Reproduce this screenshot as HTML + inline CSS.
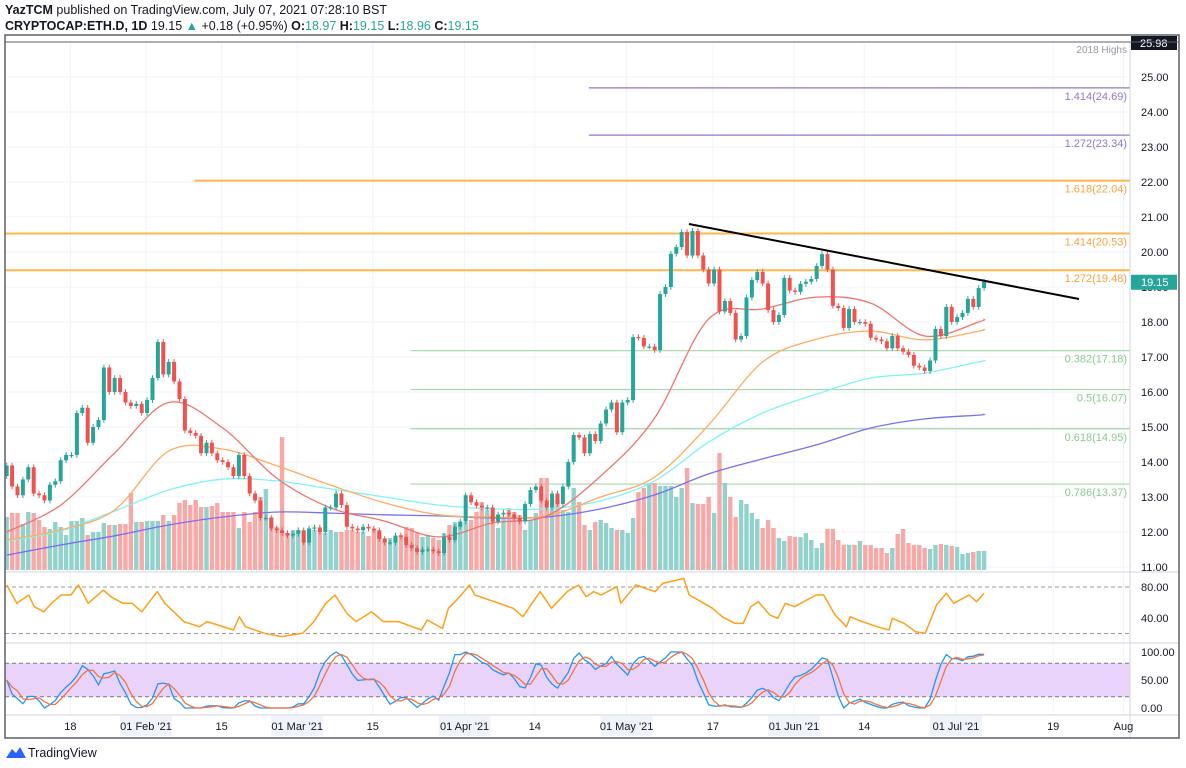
<!DOCTYPE html>
<html><head><meta charset="utf-8">
<style>
html,body{margin:0;padding:0;background:#fff;}
svg{display:block;font-family:"Liberation Sans",Arial,sans-serif;}
</style></head>
<body>
<svg id="chart" width="1186" height="768" viewBox="0 0 1186 768" xmlns="http://www.w3.org/2000/svg">
  <rect x="0" y="0" width="1186" height="768" fill="#ffffff"/>
  <text x="5" y="14" font-size="12.5" fill="#131722"><tspan font-weight="bold">YazTCM</tspan> published on TradingView.com, July 07, 2021 07:28:10 BST</text>
  <text x="5" y="30" font-size="12.5" fill="#131722"><tspan font-weight="bold">CRYPTOCAP:ETH.D, 1D</tspan>  19.15 <tspan fill="#26a69a">▲</tspan> +0.18 (+0.95%) <tspan font-weight="bold">O:</tspan><tspan fill="#26a69a">18.97</tspan> <tspan font-weight="bold">H:</tspan><tspan fill="#26a69a">19.15</tspan> <tspan font-weight="bold">L:</tspan><tspan fill="#26a69a">18.96</tspan> <tspan font-weight="bold">C:</tspan><tspan fill="#26a69a">19.15</tspan></text>
  <g id="grid"></g>
  <g id="fibs"></g>
  <g id="vol"></g>
  <g id="mas"></g>
  <g id="candles"></g>
  <line x1="689" y1="224" x2="1079" y2="299" stroke="#000" stroke-width="2"/>
  <g id="rsi"></g>
  <g id="stoch"></g>
  <g id="axes"></g>
  <rect x="5" y="35" width="1174" height="703" fill="none" stroke="#5d606b" stroke-width="1.5"/>
  <line x1="5" y1="42" x2="1179" y2="42" stroke="#5d606b" stroke-width="1"/>
  <g>
    <path d="M6 758 L12 749 L16 753 L20 747 L26 758 Z" fill="#2962ff"/>
    <text x="28" y="757" font-size="12.5" fill="#131722">TradingView</text>
  </g>
</svg>
<script>
// ---- data ----
const firstOpen = 13.6;
const closesJan = [13.9,13.3,13.05,13.5,13.85,13.1,13.05,12.9,13.35,13.45,
14.05,14.2,14.2,15.4,15.55,14.55,15.0,15.2,16.7,16.0,
16.4,16.0,15.7,15.6,15.66,15.4,15.77,16.4,17.43,16.5,
16.86,16.3,15.8,14.9,14.83,14.75,14.25,14.55,14.25,14.05,
14.0,13.85,13.6,14.2,13.6,13.1,12.9,12.4,12.4,12.1,
12.05,11.97,11.9,11.95,12.05,11.7,12.1,12.13,12.0,12.7,
12.7,13.1,12.77,12.15,12.1,12.05,12.15,12.1,12.05,11.8,
11.7,11.7,11.9];
const closesMar = [11.86,11.63,11.54,11.43,11.5,11.5,11.45,11.4,11.86,11.77,12.15,12.3,13.05];
const closesAprMay = [12.85,12.75,12.7,12.7,12.3,12.5,12.55,12.5,12.4,12.3,
12.8,13.2,13.3,12.9,12.7,13.1,12.8,13.3,14.0,14.77,
14.7,14.25,14.8,14.6,15.1,15.5,15.7,14.85,15.7,15.77,
17.57,17.55,17.3,17.3,17.2,18.8,19.0,19.95,20.14,20.57,
19.9,20.6,19.9,19.5,19.1,19.5,18.3,18.6,18.26,17.5,
17.6,18.7,19.2,19.43,19.1,18.34,18.0,18.2];
const closesJun = [19.26,18.9,18.86,19.09,19.15,19.23,19.6,19.94,19.5,18.46,
18.4,17.83,18.37,18.0,18.0,17.95,17.55,17.5,17.45,17.25,
17.6,17.25,17.15,17.06,16.75,16.7,16.6,16.9,17.8,17.6,
18.43,18.0,18.14,18.26,18.66,18.43,18.97,19.15];
const volJan = [53,57,57,46,58,57,50,43,41,48,43,35,49,49,52,35,38,38,47,45,
45,46,46,77,48,48,49,49,49,55,49,55,67,70,65,70,63,63,64,67,
58,58,58,42,58,48,58,73,81,53,43,133,37,40,40,38,40,40,40,37,
40,38,38,40,40,38,38,34,40,38,32,32,33];
const volMar = [35,43,42,37,33,35,32,30,37,45,48,48,48];
const volAprMay = [50,58,68,60,52,42,52,62,58,55,40,50,57,92,92,70,70,60,58,82,
68,45,40,48,50,47,42,40,40,37,
52,78,82,87,87,84,84,84,73,82,102,67,66,66,73,57,117,87,73,53,70,66,57,51,42,50,42,32];
const volJun = [29,34,33,33,37,30,22,27,41,41,30,25,25,25,29,25,25,22,22,17,22,36,41,27,25,25,22,21,25,26,25,24,23,16,17,18,19,19];
// moving averages sampled every 10 candles (last = final candle)
const maSampleIdx = [0,10,20,30,40,50,60,70,80,90,100,110,120,130,140,150,160,170,180,181];
const ma20 = [12.0,12.77,14.26,15.7,14.97,13.54,12.69,12.31,11.86,12.26,12.46,13.6,15.26,18.09,18.37,18.71,18.54,17.6,18.0,18.09];
const ma50 = [11.77,12.06,12.63,14.31,14.37,13.89,13.34,12.83,12.49,12.43,12.46,13.0,13.57,15.06,16.86,17.51,17.74,17.49,17.74,17.8];
const ma100 = [11.74,12.03,12.6,13.2,13.51,13.46,13.23,13.0,12.77,12.66,12.66,12.89,13.46,14.57,15.4,15.94,16.4,16.54,16.86,16.89];
const ma200 = [11.34,11.63,11.89,12.2,12.43,12.57,12.54,12.49,12.46,12.4,12.43,12.66,13.06,13.66,14.09,14.49,14.97,15.23,15.34,15.37];
// RSI at candle positions
const rsiIdx = [0,1.9,4.1,5.1,6.9,8.3,10.1,11.9,13.3,15.1,17.9,19.3,21.5,23.2,25,27.9,29.3,32.8,35.7,37.1,42,43.1,44.2,47.7,50.9,52.7,54.8,56.9,59.1,60.8,63,64.7,67.6,69.7,72.5,76.8,77.9,80.7,81.8,83.6,85.7,86.7,90.3,93.8,95.6,98.8,100.9,103.8,105.9,107.3,
108.7,110.1,113,113.7,116.5,120.1,121.5,125.4,126.4,128.6,130.7,132.5,134.9,136.4,137.8,139.2,141.3,142.8,144.2,145.9,149.9,151.3,153.4,155.5,156.2,158.4,161.2,163.4,164,166.2,168.3,170.1,172.2,174,175.4,178.2,179.6,181];
const rsiValsRead = [82.6,59,69.7,54.6,48,59,69.7,69.7,82.6,59,76,67.5,59,59,48,74,59,35.3,28.8,35.3,24.5,41.7,28.8,20.2,16,18,20.2,35.3,59,69.7,46,35.3,48,35.3,35.3,24.5,37.5,26.5,52.5,65,82.6,69.7,61,52.5,41.7,74,52.5,74,82.6,67.5,
74,69.7,80.4,59,82.6,74,84.7,91,69.7,61,52.5,41.7,33,33,54.6,61,44,39.6,59,54.6,69.7,69.7,44,28.8,41.7,35.3,28.8,24.5,39.6,33,22.3,20.2,56.9,71.9,59,69.7,61,71.9];
const priceTicks = [25,24,23,22,21,20,19,18,17,16,15,14,13,12,11];
const fibLevels = [1.414,1.272,1.618,1.414,1.272,0.382,0.5,0.618,0.786];
const fibPrices = [24.69,23.34,22.04,20.53,19.48,17.18,16.07,14.95,13.37];
const fibKinds = ['p','p','o','o','o','g','g','g','g'];
const fibStartDay = [113,113,40,5,5,80,80,80,80];
const tickDays = [17,31,45,59,73,90,103,120,136,151,164,181,199,212];
const tickLabels = ['18','01 Feb \'21','15','01 Mar \'21','15','01 Apr \'21','14','01 May \'21','17','01 Jun \'21','14','01 Jul \'21','19','Aug'];
const rsiSeedGain = 0.2, rsiSeedLoss = 0.05;

const closes = closesJan.concat(closesMar, closesAprMay, closesJun);
const vols = volJan.concat(volMar, volAprMay, volJun);

// ---- scales ----
const NS = 'http://www.w3.org/2000/svg';
const PLOT_R = 1130;
function xDay(d){ return 146 + 5.4*(d-31); }
function xI(i){ return xDay(i + 5.2); }
function yP(p){ return 77 + (25-p)*35; }
function yV(v){ return 570 - v; }
function yR(r){ return 587 + (80-r)*0.775; }
function yS(s){ return 708 - s*0.56; }
function mk(tag, attrs, parent){ const e=document.createElementNS(NS,tag); for(const k in attrs) e.setAttribute(k,attrs[k]); parent.appendChild(e); return e; }

const grid = document.getElementById('grid');
priceTicks.forEach(p=>{ const l=mk('line',{x1:5,x2:PLOT_R,y1:yP(p),y2:yP(p),stroke:'#f0f3fa'},grid);

 });
tickDays.forEach(d=>{ const l=mk('line',{x1:xDay(d),x2:xDay(d),y1:42,y2:715,stroke:'#f0f3fa'},grid);

 });

// fibs
const fibG = document.getElementById('fibs');
const fibCol = {p:'#9575cd',o:'#ffb74d',g:'#a5d6a7'};
const fibTxt = {p:'#9575cd',o:'#f7a145',g:'#8cc98e'};
fibPrices.forEach((p,k)=>{
  const y=yP(p); const kind=fibKinds[k];
  const l=mk('line',{x1:Math.max(5,xDay(fibStartDay[k])),x2:PLOT_R,y1:y,y2:y,stroke:fibCol[kind],'stroke-width':kind==='o'?2:1.2},fibG);
  
  
  const t=mk('text',{x:1127,y:y+12,'text-anchor':'end','font-size':11,fill:fibTxt[kind]},fibG);
  t.textContent=fibLevels[k]+'('+p.toFixed(2)+')';
  
  
});

// candles & volume
const cg=document.getElementById('candles'), vg=document.getElementById('vol');
closes.forEach((c,i)=>{
  const o = i===0?firstOpen:closes[i-1];
  const up = c>=o;
  const x=xI(i);
  const hi=Math.max(o,c)+0.08, lo=Math.min(o,c)-0.08;
  const col= up?'#26a69a':'#ef5350';
  const vb=mk('rect',{x:x-2.2,y:yV(vols[i]),width:4.4,height:vols[i],fill:up?'#92d2cc':'#f7a9a7'},vg);
  
  
  const w=mk('line',{x1:x,x2:x,y1:yP(hi),y2:yP(lo),stroke:col,'stroke-width':1},cg);
  
  
  const top=yP(Math.max(o,c)), h=Math.max(1.2,yP(Math.min(o,c))-top);
  const b=mk('rect',{x:x-2,y:top,width:4,height:h,fill:col},cg);
  
  
});

// moving averages (smooth through samples)
function smoothPath(pts){
  let d='M'+pts[0][0].toFixed(1)+','+pts[0][1].toFixed(1);
  for(let i=0;i<pts.length-1;i++){
    const p0=pts[Math.max(0,i-1)],p1=pts[i],p2=pts[i+1],p3=pts[Math.min(pts.length-1,i+2)];
    const c1=[p1[0]+(p2[0]-p0[0])/6,p1[1]+(p2[1]-p0[1])/6];
    const c2=[p2[0]-(p3[0]-p1[0])/6,p2[1]-(p3[1]-p1[1])/6];
    d+=' C'+c1[0].toFixed(1)+','+c1[1].toFixed(1)+' '+c2[0].toFixed(1)+','+c2[1].toFixed(1)+' '+p2[0].toFixed(1)+','+p2[1].toFixed(1);
  }
  return d;
}
const mg=document.getElementById('mas');
[[ma200,'#7a6ff0','ma-200'],[ma100,'#7ff3f3','ma-100'],[ma50,'#ffab5e','ma-50'],[ma20,'#f0736b','ma-20']].forEach(([arr,col,name])=>{
  const pts=arr.map((v,k)=>[xI(maSampleIdx[k]),yP(v)]);
  const p=mk('path',{d:smoothPath(pts),fill:'none',stroke:col,'stroke-width':1.3},mg);
  
  
});

// RSI (computed, used for Stoch RSI)
const rsiVals=[]; let ag=rsiSeedGain, al=rsiSeedLoss;
closes.forEach((c,i)=>{
  const ch = i===0? c-firstOpen : c-closes[i-1];
  ag=(ag*13+Math.max(ch,0))/14; al=(al*13+Math.max(-ch,0))/14;
  rsiVals.push(al===0?100:100-100/(1+ag/al));
});
const rg=document.getElementById('rsi');
[80,20].forEach(v=>{ const l=mk('line',{x1:5,x2:PLOT_R,y1:yR(v),y2:yR(v),stroke:'#9598a1','stroke-dasharray':'4 3'},rg);

 });
const rp=mk('polyline',{points:rsiValsRead.map((r,k)=>xI(rsiIdx[k]).toFixed(1)+','+yR(r).toFixed(1)).join(' '),fill:'none',stroke:'#ff9f1a','stroke-width':1.5,'stroke-linejoin':'round'},rg);



// Stoch RSI
const st=rsiVals.map((r,i)=>{ const w=rsiVals.slice(Math.max(0,i-13),i+1); const mn=Math.min(...w), mx=Math.max(...w); return mx===mn?50:(r-mn)/(mx-mn)*100; });
const sma=(a,n)=>a.map((v,i)=>{const w=a.slice(Math.max(0,i-n+1),i+1);return w.reduce((s,x)=>s+x,0)/w.length;});
const K=sma(st,3), D=sma(K,3);
const sg=document.getElementById('stoch');
const band=mk('rect',{x:5,y:yS(80),width:PLOT_R-5,height:yS(20)-yS(80),fill:'#e9d3fb'},sg);


[80,20].forEach(v=>{ const l=mk('line',{x1:5,x2:PLOT_R,y1:yS(v),y2:yS(v),stroke:'#787b86','stroke-dasharray':'4 3'},sg);

 });
const kp=mk('polyline',{points:K.map((v,i)=>xI(i).toFixed(1)+','+yS(v).toFixed(1)).join(' '),fill:'none',stroke:'#2196f3','stroke-width':1.3},sg);


const dp=mk('polyline',{points:D.map((v,i)=>xI(i).toFixed(1)+','+yS(v).toFixed(1)).join(' '),fill:'none',stroke:'#f4733e','stroke-width':1.3},sg);



// axes
const ax=document.getElementById('axes');
[572,643,715].forEach(y=>{ const l=mk('line',{x1:5,x2:1179,y1:y,y2:y,stroke:'#e0e3eb','stroke-width':1.5},ax);

 });
const al2=mk('line',{x1:PLOT_R,x2:PLOT_R,y1:42,y2:738,stroke:'#d1d4dc'},ax);


priceTicks.forEach(p=>{ const t=mk('text',{x:1141,y:yP(p)+4,'font-size':11,fill:'#131722'},ax); t.textContent=p.toFixed(2);

 });
[80,40].forEach(v=>{ const t=mk('text',{x:1141,y:yR(v)+4,'font-size':11,fill:'#131722'},ax); t.textContent=v.toFixed(2);

 });
[100,50,0].forEach(v=>{ const t=mk('text',{x:1141,y:yS(v)+4,'font-size':11,fill:'#131722'},ax); t.textContent=v.toFixed(2);

 });
tickDays.forEach((d,k)=>{
  const lab=tickLabels[k], x=xDay(d);
  if(lab.length>4){ const r=mk('rect',{x:x-26,y:716,width:52,height:20,fill:'#f0f3fa'},ax);
    
     }
  const t=mk('text',{x:x,y:730,'text-anchor':'middle','font-size':11,fill:'#131722'},ax); t.textContent=lab;
  
  
});
const hb=mk('rect',{x:1131,y:36,width:46,height:14,fill:'#131722'},ax);


const ht=mk('text',{x:1140,y:47,'font-size':11,fill:'#fff'},ax); ht.textContent='25.98';


const h18=mk('text',{x:1127,y:53,'text-anchor':'end','font-size':10,fill:'#9598a1'},ax); h18.textContent='2018 Highs';


const last=closes[closes.length-1];
const cb=mk('rect',{x:1131,y:yP(last)-7,width:46,height:15,fill:'#26a69a'},ax);


const ct=mk('text',{x:1141,y:yP(last)+4,'font-size':11,fill:'#fff'},ax); ct.textContent=last.toFixed(2);


</script>
</body></html>
